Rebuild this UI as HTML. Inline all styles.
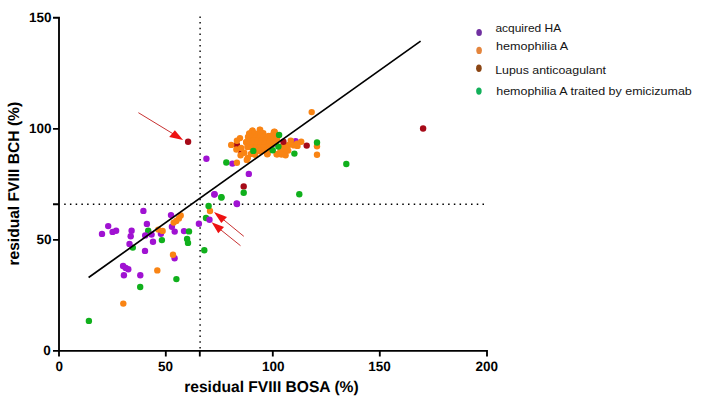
<!DOCTYPE html>
<html><head><meta charset="utf-8"><title>chart</title>
<style>
html,body{margin:0;padding:0;background:#fff;}
#c{position:relative;width:705px;height:414px;overflow:hidden;background:#fff;}
</style></head><body>
<div id="c">
<svg width="705" height="414" viewBox="0 0 705 414" style="position:absolute;left:0;top:0">
<rect width="705" height="414" fill="#ffffff"/>
<!-- dotted reference lines -->
<line x1="200.1" y1="16.4" x2="200.1" y2="350" stroke="#000" stroke-width="1.4" stroke-dasharray="1.5 4.2"/>
<line x1="64.2" y1="204.2" x2="486" y2="204.2" stroke="#000" stroke-width="1.4" stroke-dasharray="1.5 4.23"/>
<!-- points -->
<circle cx="206.0" cy="218.0" r="3.2" fill="#10b01c"/>
<circle cx="148.2" cy="230.7" r="3.2" fill="#10b01c"/>
<circle cx="132.8" cy="247.6" r="3.2" fill="#10b01c"/>
<circle cx="143.4" cy="210.9" r="3.2" fill="#a012d2"/>
<circle cx="108.2" cy="226.1" r="3.2" fill="#a012d2"/>
<circle cx="102.0" cy="233.9" r="3.2" fill="#a012d2"/>
<circle cx="112.6" cy="231.9" r="3.2" fill="#a012d2"/>
<circle cx="116.1" cy="230.7" r="3.2" fill="#a012d2"/>
<circle cx="131.6" cy="230.7" r="3.2" fill="#a012d2"/>
<circle cx="130.7" cy="236.3" r="3.2" fill="#a012d2"/>
<circle cx="129.5" cy="243.9" r="3.2" fill="#a012d2"/>
<circle cx="146.9" cy="223.9" r="3.2" fill="#a012d2"/>
<circle cx="145.2" cy="235.4" r="3.2" fill="#a012d2"/>
<circle cx="151.6" cy="234.6" r="3.2" fill="#a012d2"/>
<circle cx="153.0" cy="241.7" r="3.2" fill="#a012d2"/>
<circle cx="145.0" cy="250.9" r="3.2" fill="#a012d2"/>
<circle cx="171.0" cy="215.1" r="3.2" fill="#a012d2"/>
<circle cx="171.9" cy="226.8" r="3.2" fill="#a012d2"/>
<circle cx="174.7" cy="231.6" r="3.2" fill="#a012d2"/>
<circle cx="160.9" cy="233.7" r="3.2" fill="#a012d2"/>
<circle cx="184.0" cy="231.1" r="3.2" fill="#a012d2"/>
<circle cx="198.9" cy="223.8" r="3.2" fill="#a012d2"/>
<circle cx="214.6" cy="194.2" r="3.2" fill="#a012d2"/>
<circle cx="237.0" cy="204.0" r="3.2" fill="#a012d2"/>
<circle cx="123.1" cy="266.0" r="3.2" fill="#a012d2"/>
<circle cx="125.7" cy="267.9" r="3.2" fill="#a012d2"/>
<circle cx="128.3" cy="269.2" r="3.2" fill="#a012d2"/>
<circle cx="123.9" cy="275.3" r="3.2" fill="#a012d2"/>
<circle cx="140.3" cy="275.3" r="3.2" fill="#a012d2"/>
<circle cx="174.6" cy="258.2" r="3.2" fill="#a012d2"/>
<circle cx="206.4" cy="158.8" r="3.2" fill="#a012d2"/>
<circle cx="232.4" cy="163.6" r="3.2" fill="#a012d2"/>
<circle cx="248.8" cy="173.9" r="3.2" fill="#a012d2"/>
<circle cx="214.3" cy="194.5" r="3.2" fill="#a012d2"/>
<circle cx="236.7" cy="203.5" r="3.2" fill="#a012d2"/>
<circle cx="295.6" cy="141.2" r="3.2" fill="#a012d2"/>
<circle cx="273.5" cy="143.8" r="3.2" fill="#a012d2"/>
<circle cx="236.9" cy="144.9" r="3.2" fill="#a60a18"/>
<circle cx="241.4" cy="151.9" r="3.2" fill="#a60a18"/>
<circle cx="231.2" cy="144.9" r="3.2" fill="#f98414"/>
<circle cx="236.9" cy="140.7" r="3.2" fill="#f98414"/>
<circle cx="240.0" cy="138.1" r="3.2" fill="#f98414"/>
<circle cx="236.4" cy="149.5" r="3.2" fill="#f98414"/>
<circle cx="241.1" cy="148.0" r="3.2" fill="#f98414"/>
<circle cx="240.6" cy="155.3" r="3.2" fill="#f98414"/>
<circle cx="244.2" cy="152.7" r="3.2" fill="#f98414"/>
<circle cx="247.8" cy="157.9" r="3.2" fill="#f98414"/>
<circle cx="246.8" cy="159.9" r="3.2" fill="#f98414"/>
<circle cx="246.3" cy="142.3" r="3.2" fill="#f98414"/>
<circle cx="249.4" cy="133.4" r="3.2" fill="#f98414"/>
<circle cx="252.5" cy="130.8" r="3.2" fill="#f98414"/>
<circle cx="259.8" cy="129.8" r="3.2" fill="#f98414"/>
<circle cx="273.8" cy="132.4" r="3.2" fill="#f98414"/>
<circle cx="255.1" cy="154.7" r="3.2" fill="#f98414"/>
<circle cx="267.6" cy="153.7" r="3.2" fill="#f98414"/>
<circle cx="274.7" cy="131.9" r="3.2" fill="#f98414"/>
<circle cx="301.2" cy="141.7" r="3.2" fill="#f98414"/>
<circle cx="290.8" cy="140.7" r="3.2" fill="#f98414"/>
<circle cx="293.9" cy="145.4" r="3.2" fill="#f98414"/>
<circle cx="297.5" cy="145.9" r="3.2" fill="#f98414"/>
<circle cx="288.7" cy="144.9" r="3.2" fill="#f98414"/>
<circle cx="285.6" cy="155.3" r="3.2" fill="#f98414"/>
<circle cx="277.3" cy="154.2" r="3.2" fill="#f98414"/>
<circle cx="288.2" cy="150.6" r="3.2" fill="#f98414"/>
<circle cx="283.5" cy="150.0" r="3.2" fill="#f98414"/>
<circle cx="261.0" cy="151.5" r="3.2" fill="#f98414"/>
<circle cx="276.6" cy="154.2" r="3.2" fill="#f98414"/>
<circle cx="252.4" cy="130.7" r="3.2" fill="#f98414"/>
<circle cx="260.2" cy="129.9" r="3.2" fill="#f98414"/>
<circle cx="282.5" cy="146.4" r="3.2" fill="#f98414"/>
<circle cx="280.4" cy="151.1" r="3.2" fill="#f98414"/>
<circle cx="286.6" cy="146.6" r="3.2" fill="#f98414"/>
<circle cx="281.5" cy="154.6" r="3.2" fill="#f98414"/>
<circle cx="249.3" cy="133.6" r="3.2" fill="#f98414"/>
<circle cx="254.5" cy="133.4" r="3.2" fill="#f98414"/>
<circle cx="258.5" cy="133.5" r="3.2" fill="#f98414"/>
<circle cx="263.3" cy="133.2" r="3.2" fill="#f98414"/>
<circle cx="274.3" cy="131.7" r="3.2" fill="#f98414"/>
<circle cx="248.0" cy="137.0" r="3.2" fill="#f98414"/>
<circle cx="252.0" cy="136.6" r="3.2" fill="#f98414"/>
<circle cx="256.0" cy="136.6" r="3.2" fill="#f98414"/>
<circle cx="260.0" cy="136.6" r="3.2" fill="#f98414"/>
<circle cx="264.0" cy="136.4" r="3.2" fill="#f98414"/>
<circle cx="268.6" cy="135.9" r="3.2" fill="#f98414"/>
<circle cx="272.4" cy="135.4" r="3.2" fill="#f98414"/>
<circle cx="275.6" cy="135.6" r="3.2" fill="#f98414"/>
<circle cx="246.2" cy="142.2" r="3.2" fill="#f98414"/>
<circle cx="250.0" cy="140.2" r="3.2" fill="#f98414"/>
<circle cx="254.0" cy="140.2" r="3.2" fill="#f98414"/>
<circle cx="258.0" cy="140.2" r="3.2" fill="#f98414"/>
<circle cx="262.0" cy="140.2" r="3.2" fill="#f98414"/>
<circle cx="266.0" cy="140.0" r="3.2" fill="#f98414"/>
<circle cx="270.0" cy="139.6" r="3.2" fill="#f98414"/>
<circle cx="273.8" cy="139.4" r="3.2" fill="#f98414"/>
<circle cx="277.0" cy="139.0" r="3.2" fill="#f98414"/>
<circle cx="249.0" cy="144.0" r="3.2" fill="#f98414"/>
<circle cx="253.0" cy="144.0" r="3.2" fill="#f98414"/>
<circle cx="257.0" cy="144.0" r="3.2" fill="#f98414"/>
<circle cx="261.0" cy="144.0" r="3.2" fill="#f98414"/>
<circle cx="265.0" cy="144.0" r="3.2" fill="#f98414"/>
<circle cx="269.0" cy="143.6" r="3.2" fill="#f98414"/>
<circle cx="272.6" cy="143.2" r="3.2" fill="#f98414"/>
<circle cx="276.0" cy="142.6" r="3.2" fill="#f98414"/>
<circle cx="247.4" cy="147.0" r="3.2" fill="#f98414"/>
<circle cx="251.4" cy="147.6" r="3.2" fill="#f98414"/>
<circle cx="255.4" cy="147.6" r="3.2" fill="#f98414"/>
<circle cx="259.4" cy="147.6" r="3.2" fill="#f98414"/>
<circle cx="263.4" cy="147.4" r="3.2" fill="#f98414"/>
<circle cx="267.2" cy="147.0" r="3.2" fill="#f98414"/>
<circle cx="270.8" cy="146.4" r="3.2" fill="#f98414"/>
<circle cx="250.9" cy="153.9" r="3.2" fill="#f98414"/>
<circle cx="256.0" cy="151.0" r="3.2" fill="#f98414"/>
<circle cx="260.0" cy="151.0" r="3.2" fill="#f98414"/>
<circle cx="264.0" cy="150.6" r="3.2" fill="#f98414"/>
<circle cx="268.0" cy="150.0" r="3.2" fill="#f98414"/>
<circle cx="267.2" cy="154.2" r="3.2" fill="#f98414"/>
<circle cx="210.0" cy="211.0" r="3.2" fill="#f98414"/>
<circle cx="180.7" cy="215.5" r="3.2" fill="#f98414"/>
<circle cx="178.9" cy="218.4" r="3.2" fill="#f98414"/>
<circle cx="176.3" cy="220.9" r="3.2" fill="#f98414"/>
<circle cx="173.7" cy="222.6" r="3.2" fill="#f98414"/>
<circle cx="158.3" cy="229.6" r="3.2" fill="#f98414"/>
<circle cx="162.6" cy="230.9" r="3.2" fill="#f98414"/>
<circle cx="173.0" cy="254.8" r="3.2" fill="#f98414"/>
<circle cx="157.3" cy="270.4" r="3.2" fill="#f98414"/>
<circle cx="123.3" cy="303.6" r="3.2" fill="#f98414"/>
<circle cx="236.9" cy="162.7" r="3.2" fill="#f98414"/>
<circle cx="311.7" cy="112.1" r="3.2" fill="#f98414"/>
<circle cx="317.0" cy="146.2" r="3.2" fill="#f98414"/>
<circle cx="317.0" cy="154.8" r="3.2" fill="#f98414"/>
<circle cx="297.0" cy="143.8" r="3.2" fill="#f98414"/>
<circle cx="188.1" cy="141.7" r="3.2" fill="#a60a18"/>
<circle cx="243.7" cy="186.4" r="3.2" fill="#a60a18"/>
<circle cx="283.4" cy="141.7" r="3.2" fill="#a60a18"/>
<circle cx="306.7" cy="145.6" r="3.2" fill="#a60a18"/>
<circle cx="423.1" cy="128.5" r="3.2" fill="#a60a18"/>
<circle cx="221.4" cy="197.4" r="3.2" fill="#10b01c"/>
<circle cx="208.6" cy="206.0" r="3.2" fill="#10b01c"/>
<circle cx="161.9" cy="240.1" r="3.2" fill="#10b01c"/>
<circle cx="189.0" cy="231.4" r="3.2" fill="#10b01c"/>
<circle cx="187.1" cy="239.0" r="3.2" fill="#10b01c"/>
<circle cx="188.0" cy="242.9" r="3.2" fill="#10b01c"/>
<circle cx="204.3" cy="250.2" r="3.2" fill="#10b01c"/>
<circle cx="176.4" cy="279.1" r="3.2" fill="#10b01c"/>
<circle cx="140.2" cy="287.0" r="3.2" fill="#10b01c"/>
<circle cx="88.9" cy="320.9" r="3.2" fill="#10b01c"/>
<circle cx="226.3" cy="162.5" r="3.2" fill="#10b01c"/>
<circle cx="243.7" cy="192.7" r="3.2" fill="#10b01c"/>
<circle cx="221.4" cy="197.2" r="3.2" fill="#10b01c"/>
<circle cx="299.3" cy="194.3" r="3.2" fill="#10b01c"/>
<circle cx="346.3" cy="164.0" r="3.2" fill="#10b01c"/>
<circle cx="294.4" cy="153.6" r="3.2" fill="#10b01c"/>
<circle cx="317.0" cy="142.5" r="3.2" fill="#10b01c"/>
<circle cx="279.1" cy="134.9" r="3.2" fill="#10b01c"/>
<circle cx="253.3" cy="150.9" r="3.2" fill="#10b01c"/>
<circle cx="272.7" cy="150.3" r="3.2" fill="#10b01c"/>
<circle cx="278.4" cy="146.6" r="3.2" fill="#10b01c"/>
<circle cx="209.5" cy="219.7" r="3.2" fill="#a012d2"/>
<!-- regression line -->
<line x1="88.6" y1="277.5" x2="420.6" y2="41.1" stroke="#000" stroke-width="1.7"/>
<!-- axes -->
<g stroke="#000" stroke-width="1.85" fill="none">
<path d="M53 17.7 H59 V351.6"/>
<path d="M58.2 350.8 H487 V356.6"/>
<path d="M53 128.8 H59 M53 204.2 H59 M53 239.8 H59 M53 350.8 H59"/>
<path d="M59 350.8 V356.6 M165.8 350.8 V356.6 M199.8 350.8 V356.6 M272.8 350.8 V356.6 M379.8 350.8 V356.6"/>
</g>
<!-- arrows -->
<g stroke="#c42626" stroke-width="0.95" fill="none">
<line x1="138.4" y1="112.7" x2="176" y2="135.6"/>
<line x1="243.8" y1="236.3" x2="223" y2="219.3"/>
<line x1="240.5" y1="245.7" x2="220" y2="229.2"/>
</g>
<g fill="#ee1111">
<polygon points="183.1,139.9 174.9,130.2 169.2,137.0"/>
<polygon points="214.0,212.0 227.0,216.9 221.3,223.1"/>
<polygon points="211.6,222.2 224.0,227.1 218.3,233.3"/>
</g>
<!-- legend dots -->
<ellipse cx="479.1" cy="32.5" rx="2.8" ry="3.6" fill="#7030a0"/>
<ellipse cx="479.1" cy="50.4" rx="2.8" ry="3.6" fill="#e4853d"/>
<ellipse cx="478.9" cy="68.2" rx="2.8" ry="3.7" fill="#8b4513"/>
<ellipse cx="478.9" cy="91.1" rx="2.75" ry="3.6" fill="#12b05a"/>

<g font-family="Liberation Sans, sans-serif" fill="#000" font-weight="bold" font-size="13.5px" text-rendering="geometricPrecision">
<g text-anchor="end">
<text x="51.6" y="21.6">150</text>
<text x="51.6" y="132.7">100</text>
<text x="51.6" y="243.7">50</text>
<text x="50.7" y="354.6">0</text>
</g>
<g text-anchor="middle">
<text x="59.2" y="370.8">0</text>
<text x="165.4" y="370.8">50</text>
<text x="273.3" y="370.8">100</text>
<text x="379.5" y="370.8">150</text>
<text x="486.7" y="370.8">200</text>
</g>
<text id="xtitle" x="184.2" y="391.8" font-size="15.6px">residual FVIII BOSA (%)</text>
<text id="ytitle" x="0" y="0" font-size="15.6px" transform="translate(18.6,265.6) rotate(-90)">residual FVIII BCH (%)</text>
</g>
<g font-family="Liberation Sans, sans-serif" fill="#151515" font-size="10.9px">
<text id="l1" x="495.4" y="31.7" textLength="65.8" lengthAdjust="spacingAndGlyphs">acquired HA</text>
<text id="l2" x="496.0" y="49.5" textLength="72.2" lengthAdjust="spacingAndGlyphs">hemophilia A</text>
<text id="l3" x="495.2" y="73.7" textLength="110.8" lengthAdjust="spacingAndGlyphs">Lupus anticoagulant</text>
<text id="l4" x="496.2" y="95.3" textLength="195.6" lengthAdjust="spacingAndGlyphs">hemophilia A traited by emicizumab</text>
</g>
</svg>
</div>
</body></html>
